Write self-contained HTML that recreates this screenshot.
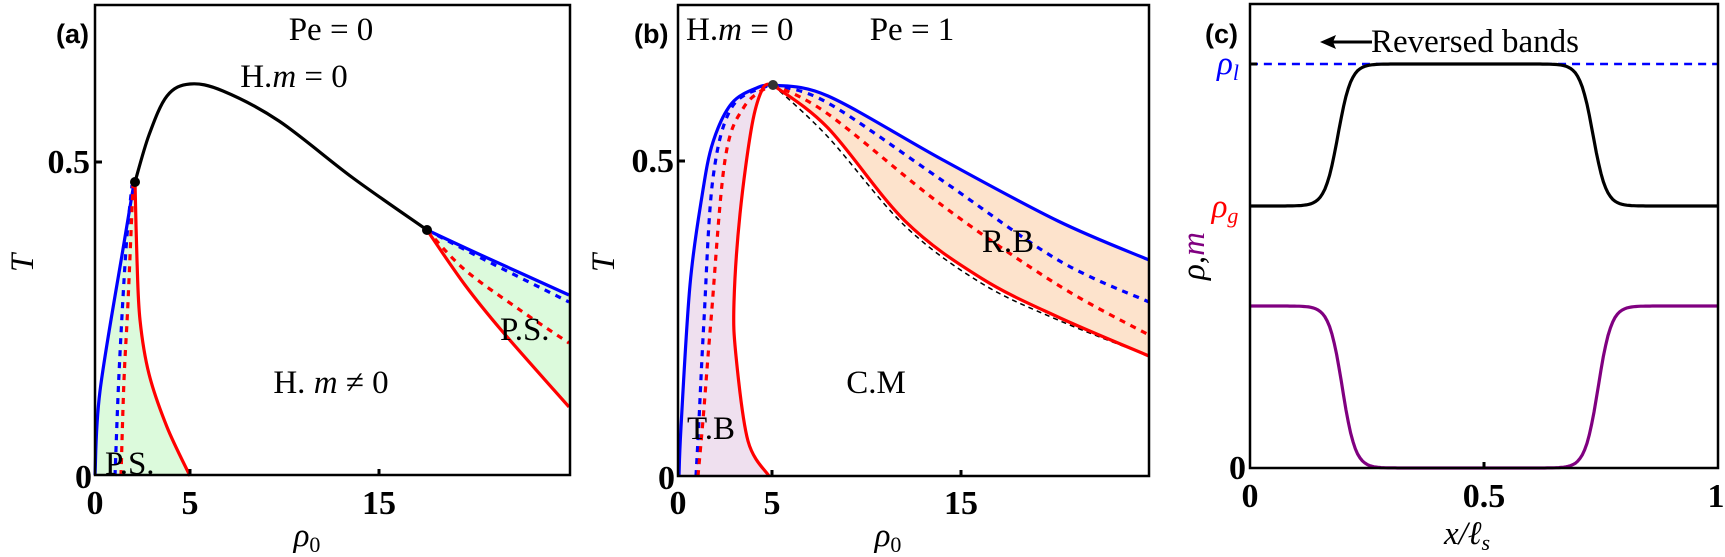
<!DOCTYPE html>
<html><head><meta charset="utf-8"><style>
html,body{margin:0;padding:0;background:#fff;width:1725px;height:557px;overflow:hidden}
svg{display:block}
.tk{font-family:"Liberation Serif",serif;font-weight:bold;font-size:34px;fill:#000}
.lb{font-family:"Liberation Serif",serif;font-size:33px;fill:#000}
.pl{font-family:"Liberation Sans",sans-serif;font-weight:bold;font-size:27px;fill:#000}
.it{font-style:italic}
</style></head><body>
<svg id="s" width="1725" height="557" viewBox="0 0 1725 557" xmlns="http://www.w3.org/2000/svg">
<g id="fills"></g>
<g id="curves" fill="none" stroke-width="3.2"></g>
<rect x="95" y="5" width="475" height="470" fill="none" stroke="#000" stroke-width="2.5"/>
<rect x="678" y="5" width="471" height="471" fill="none" stroke="#000" stroke-width="2.5"/>
<rect x="1250" y="4" width="468" height="464" fill="none" stroke="#000" stroke-width="2.5"/>
<g stroke="#000" stroke-width="3">
<line x1="95" y1="162" x2="102" y2="162"/><line x1="190" y1="475" x2="190" y2="469"/><line x1="379" y1="475" x2="379" y2="469"/>
<line x1="678" y1="161" x2="685" y2="161"/><line x1="772" y1="476" x2="772" y2="470"/><line x1="961" y1="476" x2="961" y2="470"/>
<line x1="1484" y1="468" x2="1484" y2="462"/><line x1="1250" y1="64" x2="1257" y2="64"/><line x1="1250" y1="206" x2="1257" y2="206"/>
</g>
<text class="pl" x="56" y="43">(a)</text>
<text class="lb" x="331" y="40" text-anchor="middle">Pe = 0</text>
<text class="lb" x="294" y="87" text-anchor="middle">H.<tspan class="it">m</tspan> = 0</text>
<text class="lb" x="331" y="393" text-anchor="middle">H. <tspan class="it">m</tspan> ≠ 0</text>
<text class="lb" x="105" y="474">P.S.</text>
<text class="lb" x="500" y="340">P.S.</text>
<text class="tk" x="90" y="173" text-anchor="end">0.5</text>
<text class="tk" x="92" y="488" text-anchor="end">0</text>
<text class="tk" x="95" y="514" text-anchor="middle">0</text>
<text class="tk" x="190" y="514" text-anchor="middle">5</text>
<text class="tk" x="379" y="514" text-anchor="middle">15</text>
<text class="lb it" x="0" y="0" transform="translate(33,263) rotate(-90)" text-anchor="middle">T</text>
<text class="lb" x="307" y="546" text-anchor="middle"><tspan class="it">ρ</tspan><tspan font-size="22" dy="6">0</tspan></text>
<text class="pl" x="634" y="43">(b)</text>
<text class="lb" x="686" y="40">H.<tspan class="it">m</tspan> = 0</text>
<text class="lb" x="912" y="40" text-anchor="middle">Pe = 1</text>
<text class="lb" x="876" y="393" text-anchor="middle">C.M</text>
<text class="lb" x="1008" y="252" text-anchor="middle">R.B</text>
<text class="lb" x="711" y="439" text-anchor="middle">T.B</text>
<text class="tk" x="674" y="172" text-anchor="end">0.5</text>
<text class="tk" x="675" y="489" text-anchor="end">0</text>
<text class="tk" x="678" y="514" text-anchor="middle">0</text>
<text class="tk" x="772" y="514" text-anchor="middle">5</text>
<text class="tk" x="961" y="514" text-anchor="middle">15</text>
<text class="lb it" x="0" y="0" transform="translate(614,263) rotate(-90)" text-anchor="middle">T</text>
<text class="lb" x="888" y="546" text-anchor="middle"><tspan class="it">ρ</tspan><tspan font-size="22" dy="6">0</tspan></text>
<text class="pl" x="1205" y="43">(c)</text>
<line x1="1372" y1="42" x2="1330" y2="42" stroke="#000" stroke-width="3"/>
<polygon points="1320,42 1336,35 1333,42 1336,49" fill="#000"/>
<text class="lb" x="1371" y="52">Reversed bands</text>
<text class="lb it" x="1228" y="74" text-anchor="middle" style="fill:#0000ff">ρ<tspan font-size="22" dy="6">l</tspan></text>
<text class="lb it" x="1225" y="217" text-anchor="middle" style="fill:#ff0000">ρ<tspan font-size="22" dy="6">g</tspan></text>
<text class="lb it" x="0" y="0" transform="translate(1204,256) rotate(-90)" text-anchor="middle">ρ,<tspan style="fill:#800080">m</tspan></text>
<text class="tk" x="1246" y="479" text-anchor="end">0</text>
<text class="tk" x="1250" y="507" text-anchor="middle">0</text>
<text class="tk" x="1484" y="507" text-anchor="middle">0.5</text>
<text class="tk" x="1716" y="507" text-anchor="middle">1</text>
<text class="lb it" x="1467" y="544" text-anchor="middle">x/ℓ<tspan font-size="22" dy="6">s</tspan></text>
</svg>
<script>
function cr(p){var d="M"+p[0][0]+","+p[0][1];for(var i=0;i<p.length-1;i++){var p0=p[i-1]||p[i],p1=p[i],p2=p[i+1],p3=p[i+2]||p2;var c1=[p1[0]+(p2[0]-p0[0])/6,p1[1]+(p2[1]-p0[1])/6],c2=[p2[0]-(p3[0]-p1[0])/6,p2[1]-(p3[1]-p1[1])/6];d+="C"+c1[0].toFixed(1)+","+c1[1].toFixed(1)+" "+c2[0].toFixed(1)+","+c2[1].toFixed(1)+" "+p2[0]+","+p2[1];}return d;}
var NS="http://www.w3.org/2000/svg";
function add(g,attrs){var e=document.createElementNS(NS,attrs.tag||"path");for(var k in attrs)if(k!="tag")e.setAttribute(k,attrs[k]);document.getElementById(g).appendChild(e);return e;}
function line(p,col,dash,w){var a={d:cr(p),stroke:col};if(dash)a["stroke-dasharray"]=dash;if(w)a["stroke-width"]=w;add("curves",a);}
function fill(a,b,col){add("fills",{d:cr(a)+"L"+cr(b.slice().reverse()).slice(1)+"Z",fill:col,stroke:"none"});}
var B="#0000ff",R="#ff0000",D="6,6";
var aBl=[[95,475],[100,391],[123,249],[134,183]];
var aRl=[[135,182],[137,260],[140,320],[149,374],[167,427],[190,476]];
fill(aBl,aRl.slice().reverse(),"#dcfadc");
var aBr=[[427,230],[483,256],[569,295]];
var aRr=[[427,230],[465,285],[502,331],[569,407]];
fill(aBr,aRr,"#dcfadc");
line([[135,182],[149,135],[167,96],[190,84],[223,91],[279,121],[353,178],[427,230]],"#000");
line(aBl,B);line([[115,476],[119,374],[126,249],[132,185]],B,D);
line([[121,476],[124,380],[128,302],[133,185]],R,D);line(aRl,R);
line(aBr,B);line([[427,230],[483,259],[569,302]],B,D);
line([[427,230],[465,270],[520,310],[569,343]],R,D);line(aRr,R);
add("curves",{tag:"circle",cx:135,cy:182,r:5,fill:"#000",stroke:"none"});
add("curves",{tag:"circle",cx:427,cy:230,r:5,fill:"#000",stroke:"none"});
var bBl=[[679,476],[681,427],[690,285],[702,196],[713,142],[732,103],[759,87],[773,85]];
var bRl=[[773,85],[763,88],[752,125],[740,214],[734,302],[736,356],[748,441],[769,476]];
fill(bBl,bRl.slice().reverse(),"#efe0ef");
var bBr=[[773,85],[828,96],[943,160],[1058,221],[1149,260]];
var bRr=[[773,85],[828,128],[905,221],[981,278],[1058,317],[1149,356]];
fill(bBr,bRr,"#fde3cc");
line(bBl,B);line([[696,476],[699,420],[704,320],[713,178],[732,107],[767,86]],B,D);
line([[698,476],[703,420],[711,320],[725,160],[744,107],[769,86]],R,D);line(bRl,R);
line([[773,85],[828,137],[905,226],[981,283],[1058,320],[1149,356]],"#000","5,4",1.5);
line(bBr,B);line([[773,85],[828,103],[943,181],[1058,260],[1149,302]],B,D);
line([[773,85],[828,114],[943,206],[1058,285],[1149,335]],R,D);line(bRr,R);
add("curves",{tag:"circle",cx:773,cy:85,r:5,fill:"#333",stroke:"none"});
line([[1250,64],[1718,64]],B,"8,6",2.5);
function prof(lo,hi,c1,c2,w){var p=[];for(var i=0;i<=200;i++){var x=i/200;var f=0.5*(Math.tanh((x-c1)/w)-Math.tanh((x-c2)/w));p.push([(1250+x*468).toFixed(1),(lo+(hi-lo)*f).toFixed(1)]);}return "M"+p.map(function(q){return q.join(",")}).join("L");}
add("curves",{d:prof(206,64,0.188,0.733,0.028),stroke:"#000"});
add("curves",{d:prof(306,468,0.197,0.744,0.028),stroke:"#800080"});
</script>
</body></html>
